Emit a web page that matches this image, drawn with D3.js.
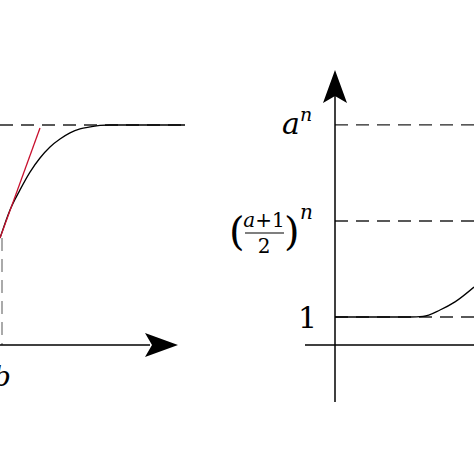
<!DOCTYPE html>
<html><head><meta charset="utf-8">
<script src="https://cdn.jsdelivr.net/npm/d3@7"></script>
<style>body{margin:0;background:#fff}svg{display:block}</style>
</head><body>
<script>
// left panel: saturating curve (x in px-like units, y as fraction of plateau)
var leftX = [0, 10, 20, 30, 40, 50, 60, 70, 80, 90, 100, 110, 185];
var leftY = [0.486, 0.614, 0.705, 0.786, 0.85, 0.9, 0.936, 0.964, 0.982, 0.991, 0.998, 1, 1];
var tangentX = [0, 40];
var tangentY = [0.486, 0.986];
// right panel: flat then rising curve
var rightX = [0, 40, 75, 88, 105, 120, 139];
var rightY = [1, 1, 1, 1.02, 1.25, 1.54, 2.07];
var levels = [7.86, 4.43, 1];
var levelLabels = ["a^n", "frac", "1"];

var svg = d3.select("body").append("svg").attr("width", 474).attr("height", 474);
var dash = "13,8";

// ---- left
var lx = d3.scaleLinear().domain([0, 185]).range([0, 185]);
var ly = d3.scaleLinear().domain([0, 1]).range([345, 125]);
var line = d3.line().curve(d3.curveMonotoneX);

svg.append("line").attr("x1", 0).attr("x2", lx(185)).attr("y1", ly(1)).attr("y2", ly(1))
  .attr("stroke", "#222").attr("stroke-width", 1.4).attr("stroke-dasharray", dash);
svg.append("line").attr("x1", 2).attr("x2", 2).attr("y1", ly(leftY[0])).attr("y2", 345)
  .attr("stroke", "#aaa").attr("stroke-width", 2).attr("stroke-dasharray", dash);
svg.append("path").attr("fill", "none").attr("stroke", "#000").attr("stroke-width", 1.3)
  .attr("d", line(leftX.map(function(d, i) { return [lx(d), ly(leftY[i])]; })));
svg.append("path").attr("fill", "none").attr("stroke", "#c8102e").attr("stroke-width", 1.3)
  .attr("d", d3.line()(tangentX.map(function(d, i) { return [lx(d), ly(tangentY[i])]; })));
svg.append("line").attr("x1", 0).attr("x2", 150).attr("y1", 345).attr("y2", 345)
  .attr("stroke", "#000").attr("stroke-width", 1.5);
svg.append("path").attr("d", "M178,345 L145,333 L152,345 L145,357 Z").attr("fill", "#000");
svg.append("text").attr("x", -7).attr("y", 386).attr("font-family", "DejaVu Serif")
  .attr("font-style", "italic").attr("font-size", 28).text("b");

// ---- right
var rx = d3.scaleLinear().domain([0, 139]).range([335, 474]);
var ry = d3.scaleLinear().domain([0, 1]).range([345, 317]);

levels.forEach(function(v) {
  svg.append("line").attr("x1", rx(0)).attr("x2", 474).attr("y1", ry(v)).attr("y2", ry(v))
    .attr("stroke", "#222").attr("stroke-width", 1.4).attr("stroke-dasharray", dash);
});
svg.append("path").attr("fill", "none").attr("stroke", "#000").attr("stroke-width", 1.3)
  .attr("d", line(rightX.map(function(d, i) { return [rx(d), ry(rightY[i])]; })));
svg.append("line").attr("x1", 305).attr("x2", 474).attr("y1", ry(0)).attr("y2", ry(0))
  .attr("stroke", "#000").attr("stroke-width", 1.3);
svg.append("line").attr("x1", rx(0)).attr("x2", rx(0)).attr("y1", 402).attr("y2", 95)
  .attr("stroke", "#000").attr("stroke-width", 1.5);
svg.append("path").attr("d", "M335,70 L323,103 L335,96 L347,103 Z").attr("fill", "#000");

var serif = "DejaVu Serif, serif";
// a^n
var t1 = svg.append("text").attr("x", 282).attr("y", ry(levels[0]) + 9).attr("font-family", serif)
  .attr("font-size", 30);
t1.append("tspan").attr("font-style", "italic").text("a");
t1.append("tspan").attr("font-style", "italic").attr("font-size", 19).attr("dy", -13).text("n");
// ((a+1)/2)^n
var fy = ry(levels[1]);
svg.append("text").attr("x", 229).attr("y", fy + 24).attr("font-family", serif).attr("font-size", 40)
  .attr("font-weight", 200).text("(");
svg.append("text").attr("x", 264).attr("y", fy + 6).attr("text-anchor", "middle").attr("font-family", serif)
  .attr("font-size", 20).html("<tspan font-style='italic'>a</tspan>+1");
svg.append("line").attr("x1", 245).attr("x2", 284).attr("y1", fy + 12).attr("y2", fy + 12)
  .attr("stroke", "#000").attr("stroke-width", 1.1);
svg.append("text").attr("x", 264).attr("y", fy + 32).attr("text-anchor", "middle").attr("font-family", serif)
  .attr("font-size", 20).text("2");
svg.append("text").attr("x", 284).attr("y", fy + 24).attr("font-family", serif).attr("font-size", 40)
  .attr("font-weight", 200).text(")");
svg.append("text").attr("x", 300).attr("y", fy - 2).attr("font-family", serif).attr("font-style", "italic")
  .attr("font-size", 20).text("n");
// 1
svg.append("text").attr("x", 298).attr("y", ry(levels[2]) + 11).attr("font-family", serif)
  .attr("font-size", 30).text(levelLabels[2]);
</script>
</body></html>
